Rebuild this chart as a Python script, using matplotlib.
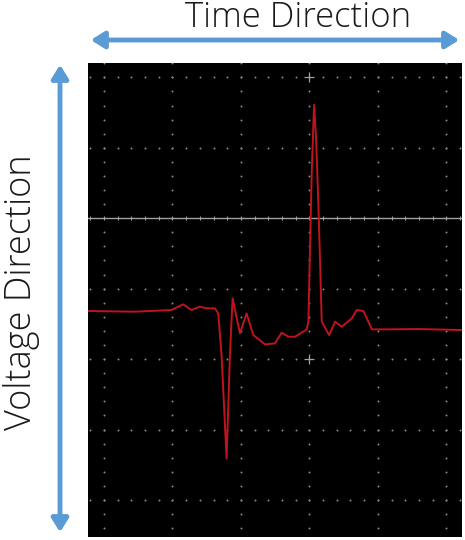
import numpy as np
import matplotlib
matplotlib.use("Agg")
import matplotlib.pyplot as plt

# trace (x in divisions, y in divisions)
px = [10,150,260,295,320,345,365,390,400,410,425,435,443,465,485,505,540,570,590,610,630,665,670,680,687,693,700,710,732,750,770,800,815,835,860,900,1000,1130]
py = [768,770,765,748,765,755,760,760,775,900,1210,900,730,835,775,840,868,865,833,845,845,823,800,350,150,250,450,800,840,800,815,790,765,768,823,823,822,825]
tx = (np.array(px) - 58) / 205.0
ty = (490 - np.array(py)) / 211.0

xmin, xmax = (10-58)/205.0, (1130-58)/205.0
ymin, ymax = (490-1445)/211.0, (490-25)/211.0
xgrid = [0, 1, 2, 3, 4, 5]
ygrid = [2, 1, 0, -1, -2, -3, -4]
cx, cy = 3, 0

fig = plt.figure(figsize=(4.65, 5.4), dpi=100)
fig.patch.set_facecolor("white")
ax = fig.add_axes([88/465, 3/540, 374/465, 474/540])
ax.set_facecolor("black")
ax.set_xlim(xmin, xmax)
ax.set_ylim(ymin, ymax)
for s in ax.spines.values():
    s.set_visible(False)
ax.set_xticks([]); ax.set_yticks([])

dot = dict(color="#8a8a8a", s=2.0, linewidths=0)
ys = np.arange(np.ceil(ymin*5)/5, ymax, 0.2)
xs = np.arange(np.ceil(xmin*5)/5, xmax, 0.2)
for g in xgrid:
    if g != cx:
        ax.scatter(np.full_like(ys, g), ys, **dot)
for g in ygrid:
    if g != cy:
        ax.scatter(xs, np.full_like(xs, g), **dot)
ax.axhline(cy, color="#a0a0a0", lw=1.0)
ax.scatter(xs, np.full_like(xs, cy), marker="|", color="#a0a0a0", s=12, linewidths=0.8)
ax.scatter(np.full_like(ys, cx), ys, **dot)
ax.scatter([cx, cx], [2, -2], marker="+", color="#a0a0a0", s=60, linewidths=0.9)

ax.plot(tx, ty, color="#c0141c", lw=1.4)

blue = "#5b9bd5"
fig.patches.append(matplotlib.patches.FancyArrowPatch(
    (88/465, 1-40/540), (462/465, 1-40/540), transform=fig.transFigure,
    arrowstyle="<|-|>,head_length=8,head_width=5", color=blue, lw=3.5, mutation_scale=1))
fig.patches.append(matplotlib.patches.FancyArrowPatch(
    (60/465, 1-62/540), (60/465, 1-535/540), transform=fig.transFigure,
    arrowstyle="<|-|>,head_length=8,head_width=5", color=blue, lw=3.5, mutation_scale=1))
fig.text(298/465, 1-18/540, "Time Direction", ha="center", va="center", fontsize=25,
         color="#1a1a1a", family="Open Sans", weight="light")
fig.text(22/465, 1-292/540, "Voltage Direction", ha="center", va="center", fontsize=26,
         rotation=90, color="#1a1a1a", family="Open Sans", weight="light")

fig.savefig("out.png", dpi=100)
